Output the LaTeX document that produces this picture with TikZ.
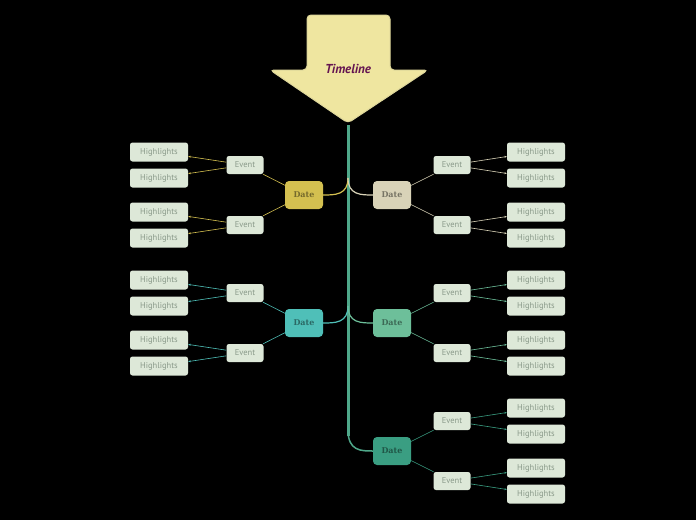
\documentclass[tikz,border=0pt]{standalone}
\usetikzlibrary{arrows.meta}
\usepackage{fontspec}
\setmainfont{PT Sans}
\newfontfamily\datefont{DejaVu Serif}
\begin{document}
\begin{tikzpicture}[x=1pt,y=-1pt,
 hl/.style={draw=none,fill=hlfill,rounded corners=2.5pt,minimum width=58pt,minimum height=19pt,inner sep=0pt,font=\fontsize{8.5}{10}\selectfont,text=txtgray},
 ev/.style={hl,minimum width=37pt,minimum height=18pt},
 datebox/.style={rounded corners=4pt,minimum width=38pt,minimum height=28pt,inner sep=0pt,font=\datefont\bfseries\fontsize{8}{10}\selectfont,text=#1!55!black,fill=#1},
 lk/.style={draw=#1,line width=0.6pt,-{Stealth[length=2.5pt,width=2pt]}},
 lk0/.style={draw=#1,line width=0.6pt}]
\definecolor{hlfill}{HTML}{DDE8D8}
\definecolor{txtgray}{HTML}{8A9A8A}
\definecolor{cgold}{HTML}{D4C050}
\definecolor{cbeige}{HTML}{D9D3B8}
\definecolor{cteal}{HTML}{4FBFB8}
\definecolor{cgreen}{HTML}{6DBF9A}
\definecolor{cdark}{HTML}{3A9E82}
\definecolor{trunk}{HTML}{4FA88A}
\definecolor{arrowc}{HTML}{EFE6A0}
\fill[black] (0,0) rectangle (696,520);
\useasboundingbox (0,0) rectangle (696,520);
% trunk
\coordinate (t0) at (348,125);
\coordinate (t1) at (348,436);
\draw[trunk,line width=3pt] (t0) -- (t1);
% arrow
\filldraw[fill=arrowc,draw=arrowc!85!gray,line width=1pt,rounded corners=4pt] (307,15) -- (390,15) -- (390,70) -- (428,70) -- (348,123) -- (270,70) -- (307,70) -- cycle;
\node[font=\fontsize{13}{15}\selectfont\bfseries\itshape,text={rgb,255:red,100;green,20;blue,80}] (title) at (348,69) {Timeline};
% dates
\node[datebox=cgold] (d1) at (304,195) {Date};
\node[datebox=cbeige] (d2) at (392,195) {Date};
\node[datebox=cteal] (d3) at (304,323) {Date};
\node[datebox=cgreen] (d4) at (392,323) {Date};
\node[datebox=cdark] (d5) at (392,451) {Date};
\draw[cgold,line width=1.2pt] (348,178) .. controls (348,195) and (335,195) .. (d1.east);
\draw[cbeige,line width=1.2pt] (348,178) .. controls (348,195) and (361,195) .. (d2.west);
\draw[cteal,line width=1.2pt] (348,306) .. controls (348,323) and (335,323) .. (d3.east);
\draw[cgreen,line width=1.2pt] (348,306) .. controls (348,323) and (361,323) .. (d4.west);
\draw[trunk,line width=1.5pt] (348,430) .. controls (348,451) and (361,451) .. (d5.west);
% branches
\foreach \d/\c/\s/\dx/\dy in {d1/cgold/-1/304/195, d2/cbeige/1/392/195, d3/cteal/-1/304/323, d4/cgreen/1/392/323, d5/cdark/1/392/451}{
  \foreach \k/\oy in {a/-30,b/30}{
    \pgfmathsetmacro{\ex}{\s<0 ? 245 : 452}
    \pgfmathsetmacro{\hx}{\s<0 ? 159 : 536}
    \node[ev] (\d\k) at (\ex,\dy+\oy) {Event};
    \node[hl] (\d\k1) at (\hx,\dy+\oy-13) {Highlights};
    \node[hl] (\d\k2) at (\hx,\dy+\oy+13) {Highlights};
    \draw[lk0=\c] (\d) -- (\d\k);
    \draw[lk=\c] (\d\k) -- (\d\k1);
    \draw[lk=\c] (\d\k) -- (\d\k2);
  }
}
\end{tikzpicture}
\end{document}
